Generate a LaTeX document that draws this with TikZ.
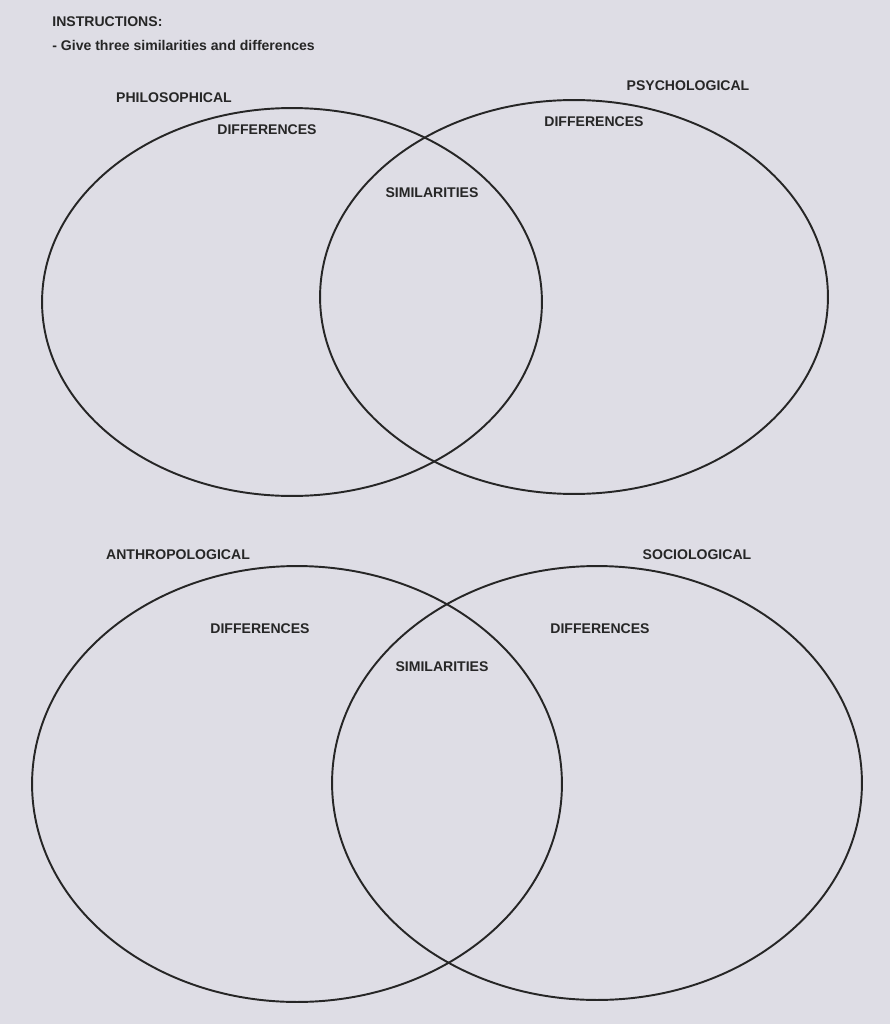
\documentclass[tikz,border=0pt]{standalone}
\usepackage{fontspec}
\setmainfont{Liberation Sans}
\begin{document}
\begin{tikzpicture}[x=0.02cm,y=-0.02cm,
  lbl/.style={font=\bfseries\fontsize{8}{10}\selectfont, text=black!85, inner sep=0pt},
  ring/.style={draw=black!85, line width=1.1pt}]
\fill[fill={rgb,255:red,222;green,221;blue,229}] (0,0) rectangle (890,1024);
\useasboundingbox (0,0) rectangle (890,1024);
\draw[ring] (292,302) ellipse [x radius=5cm, y radius=3.88cm];
\draw[ring] (574,297) ellipse [x radius=5.08cm, y radius=3.94cm];
\draw[ring] (297,784) ellipse [x radius=5.3cm, y radius=4.36cm];
\draw[ring] (597,783) ellipse [x radius=5.3cm, y radius=4.34cm];
\node[lbl, anchor=west] (ins) at (52,22) {INSTRUCTIONS:};
\node[lbl, anchor=west] (give) at (52,45) {- Give three similarities and differences};
\node[lbl] (phil) at (174,98) {PHILOSOPHICAL};
\node[lbl] (d1) at (267,130) {DIFFERENCES};
\node[lbl] (psy) at (688,86) {PSYCHOLOGICAL};
\node[lbl] (d2) at (594,122) {DIFFERENCES};
\node[lbl] (s1) at (432,193) {SIMILARITIES};
\node[lbl] (ant) at (178,555) {ANTHROPOLOGICAL};
\node[lbl] (soc) at (697,555) {SOCIOLOGICAL};
\node[lbl] (d3) at (260,629) {DIFFERENCES};
\node[lbl] (d4) at (600,629) {DIFFERENCES};
\node[lbl] (s2) at (442,667) {SIMILARITIES};
\end{tikzpicture}
\end{document}
